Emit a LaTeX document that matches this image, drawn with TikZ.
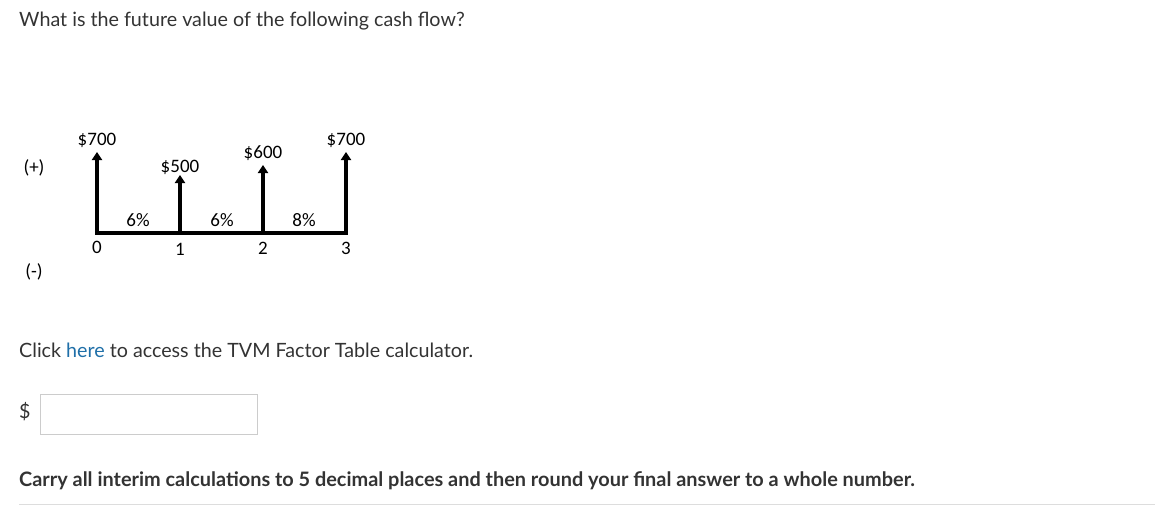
\documentclass[tikz,border=0pt]{standalone}
\usepackage{fontspec}
\setmainfont{Lato}
\newfontfamily\cashfont{Carlito}
\usetikzlibrary{arrows.meta}
\definecolor{textgray}{HTML}{333333}
\definecolor{linkblue}{HTML}{1F6FA8}
\definecolor{boxgray}{HTML}{CCCCCC}
\definecolor{rulegray}{HTML}{DDDDDD}
\tikzset{
 q/.style
  = {anchor=base west, inner sep=0pt, text=textgray, font=\fontsize{19.7}{23}\selectfont},
 cf/.style
  = {inner sep=0pt, font=\cashfont\fontsize{19}{22}\selectfont},
 flow/.style
  = {draw, line width=3.5pt, -{Triangle[width=10pt,length=8pt]}},
 axis/.style
  = {draw, line width=3.5pt, line cap=rect},
}

\begin{document}
\begin{tikzpicture}[x=1pt,y=-1pt]
\useasboundingbox (0,0) rectangle (1155,506);

% Question
\node[q] (question) at (19,27) {What is the future value of the following cash flow?};

% Signs
\node[cf] (plus) at (34,168) {(+)};
\node[cf] (minus) at (34,272) {(-)};

% Time line
\coordinate (t0) at (97,233);
\coordinate (t1) at (180,233);
\coordinate (t2) at (263,233);
\coordinate (t3) at (346,233);
\draw[axis] (t0) -- (t3);

% Cash flows
\coordinate (a0) at (97,152);
\coordinate (a1) at (180,175);
\coordinate (a2) at (263,165);
\coordinate (a3) at (346,152);
\foreach \i in {0,...,3}
  \draw[flow] (t\i) -- (a\i);

\node[cf] (v0) at (97,140) {\$700};
\node[cf] (v1) at (180,167) {\$500};
\node[cf] (v2) at (263,153) {\$600};
\node[cf] (v3) at (346,140) {\$700};

% Rates
\node[cf] (r1) at (138,220) {6\%};
\node[cf] (r2) at (222,220) {6\%};
\node[cf] (r3) at (304,220) {8\%};

% Periods
\node[cf] (n0) at (97,247) {0};
\node[cf] (n1) at (180,249) {1};
\node[cf] (n2) at (263,248) {2};
\node[cf] (n3) at (346,248) {3};

% Calculator link
\node[q] (link) at (19,357) {Click \textcolor{linkblue}{here} to access the TVM Factor Table calculator.};

% Answer box
\node[q] (dollar) at (19,418) {\$};
\node[draw=boxgray, line width=1pt, minimum width=217pt, minimum height=40pt, inner sep=0pt, anchor=north west] (answer) at (40,394) {};

% Note
\node[q, font=\bfseries\fontsize{19.9}{23}\selectfont] (note) at (19,486) {Carry all interim calculations to 5 decimal places and then round your final answer to a whole number.};
\coordinate (r0) at (19,504);
\coordinate (r1) at (1155,504);
\draw[rulegray, line width=1pt] (r0) -- (r1);

\end{tikzpicture}
\end{document}
